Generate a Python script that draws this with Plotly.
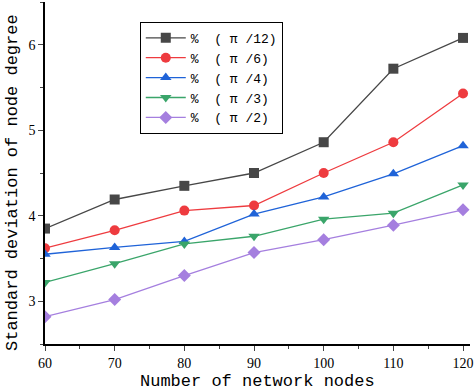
import plotly.graph_objects as go

nodes = [60, 70, 80, 90, 100, 110, 120]
s_pi12 = [3.85, 4.19, 4.35, 4.50, 4.86, 5.72, 6.08]
s_pi6 = [3.62, 3.83, 4.06, 4.12, 4.50, 4.86, 5.43]
s_pi4 = [3.55, 3.63, 3.70, 4.02, 4.22, 4.49, 4.82]
s_pi3 = [3.22, 3.44, 3.67, 3.76, 3.96, 4.03, 4.36]
s_pi2 = [2.82, 3.02, 3.30, 3.57, 3.72, 3.89, 4.07]
names = ["%  ( π /12)", "%  ( π /6)", "%  ( π /4)", "%  ( π /3)", "%  ( π /2)"]
series = [s_pi12, s_pi6, s_pi4, s_pi3, s_pi2]
colors = ["#474747", "#ee3b3f", "#1f63d8", "#3aa56a", "#a57fdf"]
symbols = ["square", "circle", "triangle-up", "triangle-down", "diamond"]
x_title = "Number of network nodes"
y_title = "Standard deviation of node degree"

fig = go.Figure()
for n, s, c, m in zip(names, series, colors, symbols):
    fig.add_trace(go.Scatter(x=nodes, y=s, name=n, mode="lines+markers",
                             line=dict(color=c, width=1.3),
                             marker=dict(symbol=m, size=10, color=c)))

fig.update_layout(
    width=474, height=392,
    margin=dict(l=45, r=4, t=2, b=48),
    paper_bgcolor="white", plot_bgcolor="white",
    font=dict(family="Liberation Serif", color="black", size=14),
    legend=dict(x=0.223, y=0.942, xanchor="left", yanchor="top",
                bgcolor="white", bordercolor="black", borderwidth=1,
                font=dict(family="Liberation Mono", size=13),
                tracegroupgap=0, itemwidth=40),
    showlegend=True,
)
fig.add_annotation(text=x_title, xref="paper", yref="paper", x=0.499, y=0,
                   xanchor="center", yanchor="middle", yshift=-37, showarrow=False,
                   font=dict(family="Liberation Mono", size=17, color="black"))
fig.add_annotation(text=y_title, xref="paper", yref="paper", x=0, y=0.5,
                   xanchor="center", yanchor="middle", xshift=-33, yshift=-10,
                   textangle=-90, showarrow=False,
                   font=dict(family="Liberation Mono", size=17, color="black"))
fig.update_xaxes(range=[60, 121], tickvals=nodes, ticks="outside", ticklen=5,
                 showline=True, linecolor="black", linewidth=1.5, showgrid=False,
                 zeroline=False, tickfont=dict(size=14), automargin=False,
                 minor=dict(dtick=5, tick0=60, ticks="outside", ticklen=3, showgrid=False))
fig.update_yaxes(range=[2.5, 6.5], dtick=1, ticks="outside", ticklen=5,
                 showline=True, linecolor="black", linewidth=1.5, showgrid=False,
                 zeroline=False, tickfont=dict(size=14), automargin=False,
                 minor=dict(dtick=0.5, tick0=2.5, ticks="outside", ticklen=3, showgrid=False))

fig.write_html("out.html", config={"displayModeBar": False},
               post_script="document.body.style.margin='0';")
